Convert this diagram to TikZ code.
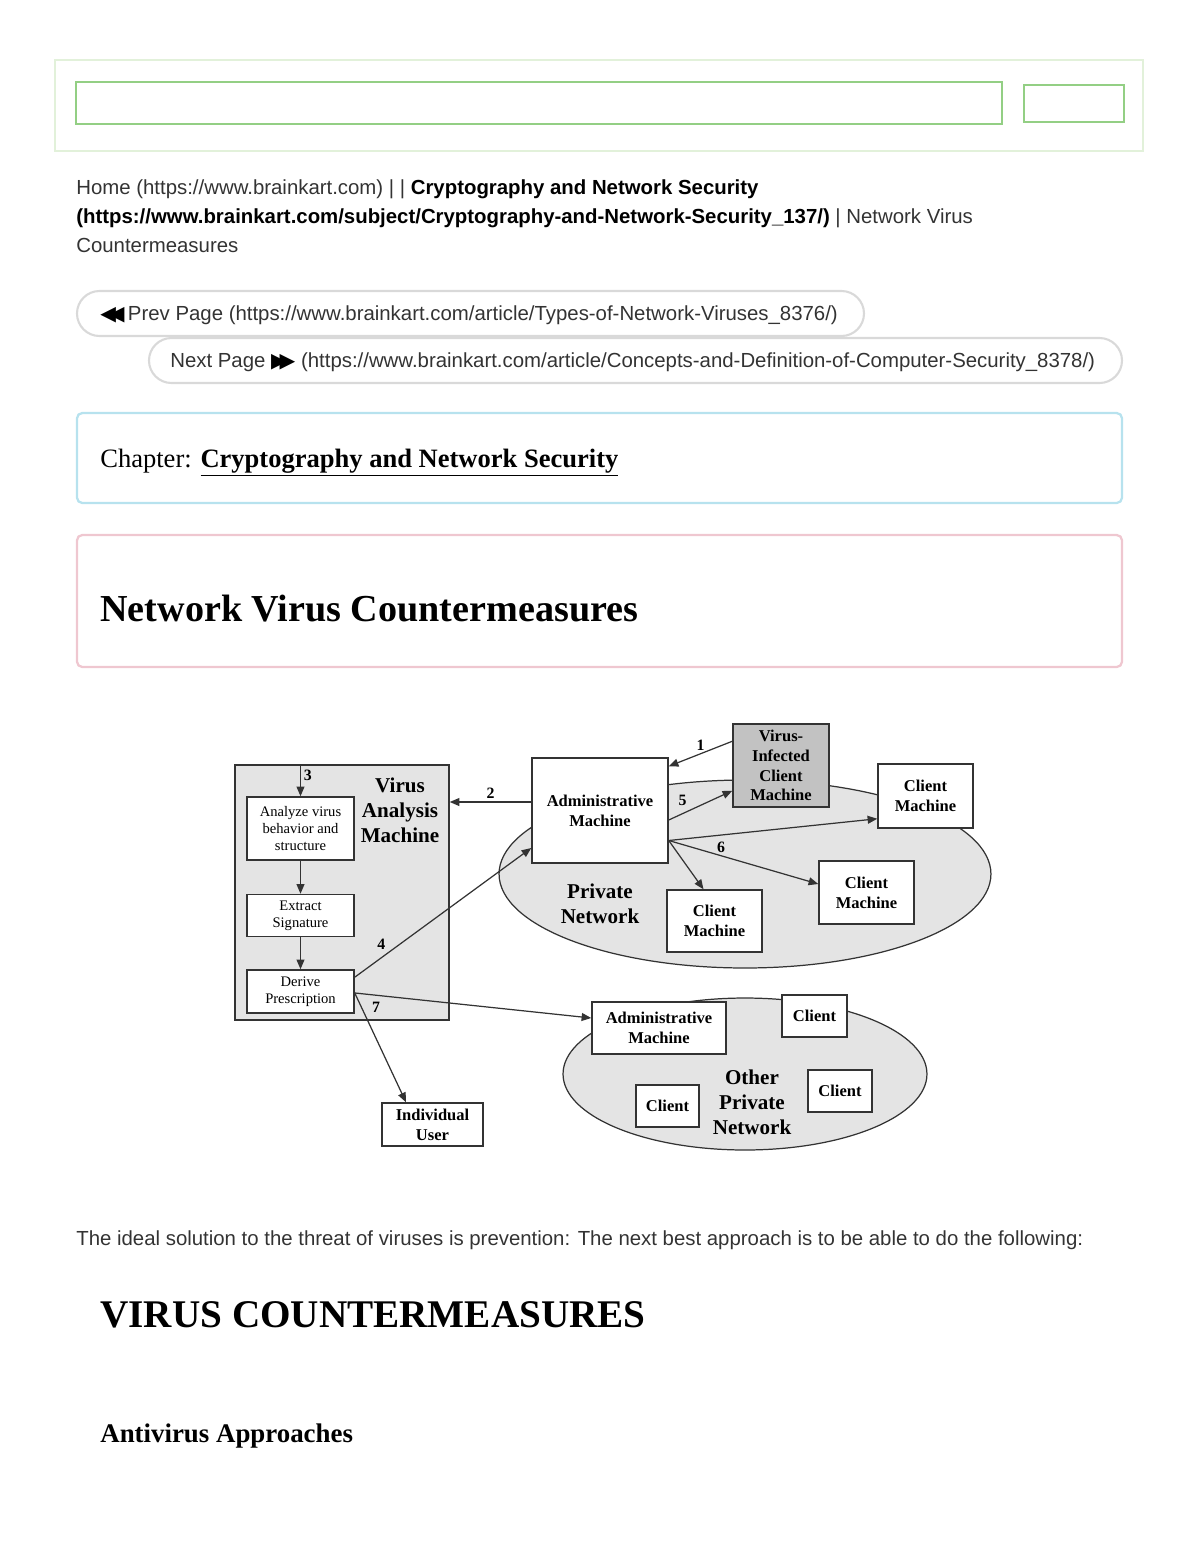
\documentclass[tikz,border=0pt]{standalone}
\usepackage{fontspec}
\setmainfont{Liberation Serif}
\setsansfont{Liberation Sans}
\newfontfamily\symfont{DejaVu Sans}
\usetikzlibrary{arrows.meta,positioning,calc,shapes.geometric}
\definecolor{bkgreen}{HTML}{93CF84}
\definecolor{bkpale}{HTML}{E2F1DA}
\definecolor{bkpill}{HTML}{D9D9D9}
\definecolor{bkblue}{HTML}{B7E2EE}
\definecolor{bkpink}{HTML}{EFC7D0}
\definecolor{bktext}{HTML}{333333}
\definecolor{figline}{HTML}{333333}
\definecolor{figfill}{HTML}{E4E4E4}
\definecolor{figdark}{HTML}{C2C2C2}

\begin{document}
\begin{tikzpicture}[
  x=0.02cm, y=-0.02cm,
  >={Triangle[length=5.5pt,width=4.5pt]},
  crumb/.style={font=\sffamily\fontsize{11.6}{14}\selectfont, text=bktext, anchor=base west, inner sep=0pt},
  heading/.style={font=\bfseries\fontsize{#1}{#1}\selectfont, anchor=base west, inner sep=0pt},
  machine/.style={draw=figline, fill=white, line width=0.85pt, align=center, inner sep=1pt,
    font=\bfseries\fontsize{9.4}{11.3}\selectfont},
  step box/.style={machine, font=\fontsize{8.3}{9.6}\selectfont},
  network/.style={ellipse, draw=figline, fill=figfill, line width=0.7pt, inner sep=0pt},
  biglabel/.style={align=center, font=\bfseries\fontsize{12}{14.2}\selectfont},
  num/.style={font=\bfseries\fontsize{9}{9}\selectfont, inner sep=1.5pt},
  link/.style={->, draw=figline, line width=0.7pt},
]
\useasboundingbox (0,0) rectangle (1200,1553);

% search bar
\draw[bkpale, line width=1.2pt] (55,60) rectangle (1143,151);
\draw[bkgreen, line width=1.6pt] (76,82) rectangle (1002,124);
\draw[bkgreen, line width=1.6pt] (1024,85) rectangle (1124,122);

% breadcrumbs
\node[crumb] (crumbA) at (76,194) {Home (https://www.brainkart.com) | | \textbf{\color{black}Cryptography and Network Security}};
\node[crumb] (crumbB) at (76,223) {\textbf{\color{black}(https://www.brainkart.com/subject/Cryptography-and-Network-Security\_137/)} | Network Virus};
\node[crumb] (crumbC) at (76,252) {Countermeasures};

% prev / next
\draw[bkpill, line width=1.2pt, rounded corners=0.45cm] (77,291) rectangle (864,336);
\draw[bkpill, line width=1.2pt, rounded corners=0.45cm] (149,338) rectangle (1122,383);
\node[crumb] (prev) at (100,320) {{\symfont\color{black}◀\kern-.35em◀}\,Prev Page (https://www.brainkart.com/article/Types-of-Network-Viruses\_8376/)};
\node[crumb] (next) at (170,367) {Next Page {\symfont\color{black}▶\kern-.35em▶} (https://www.brainkart.com/article/Concepts-and-Definition-of-Computer-Security\_8378/)};

% chapter and title
\draw[bkblue, line width=1.3pt, rounded corners=3pt] (77,413) rectangle (1122,503);
\node[heading=15.1, font=\fontsize{15.1}{15.1}\selectfont] (chapter) at (100,467) {Chapter: \textbf{\underline{Cryptography and Network Security}}};
\draw[bkpink, line width=1.3pt, rounded corners=3pt] (77,535) rectangle (1122,667);
\node[heading=21.7] (title) at (100,621) {Network Virus Countermeasures};

% figure: networks first
\node[network, minimum width=9.84cm, minimum height=3.76cm] (pnet) at (745,874) {};
\node[network, minimum width=7.28cm, minimum height=3.04cm] (onet) at (745,1074) {};

\node[draw=figline, fill=figfill, line width=0.85pt, minimum width=4.28cm, minimum height=5.1cm] (vam) at (342,892.5) {};
\node[biglabel] (vamlabel) at (400,810) {Virus\\Analysis\\Machine};
\node[step box, minimum width=2.14cm, minimum height=1.26cm] (analyze) at (300.5,828.5) {Analyze virus\\behavior and\\structure};
\node[step box, minimum width=2.14cm, minimum height=0.84cm, below=0.66cm of analyze] (extract) {Extract\\Signature};
\node[step box, minimum width=2.14cm, minimum height=0.86cm, below=0.64cm of extract] (derive) {Derive\\Prescription};

\node[machine, minimum width=2.72cm, minimum height=2.1cm] (admin) at (600,810.5) {Administrative\\Machine};
\node[machine, fill=figdark, minimum width=1.92cm, minimum height=1.66cm] (infected) at (781,765.5) {Virus-\\Infected\\Client\\Machine};
\node[machine, minimum width=1.9cm, minimum height=1.28cm] (cmA) at (925.5,796) {Client\\Machine};
\node[machine, minimum width=1.9cm, minimum height=1.26cm] (cmB) at (866.5,892.5) {Client\\Machine};
\node[machine, minimum width=1.9cm, minimum height=1.24cm] (cmC) at (714.5,921) {Client\\Machine};
\node[biglabel] (pnetlabel) at (600,904) {Private\\Network};

\node[machine, minimum width=2.02cm, minimum height=0.86cm] (user) at (432.5,1124.5) {Individual\\User};
\node[machine, minimum width=2.68cm, minimum height=1.04cm] (oadmin) at (659,1028) {Administrative\\Machine};
\node[machine, minimum width=1.3cm, minimum height=0.84cm] (ocA) at (814.5,1016) {Client};
\node[machine, minimum width=1.26cm, minimum height=0.84cm] (ocB) at (667.5,1106) {Client};
\node[machine, minimum width=1.28cm, minimum height=0.84cm] (ocC) at (840,1091) {Client};
\node[biglabel] (onetlabel) at (752,1102) {Other\\Private\\Network};

% connectors
\draw[link] (analyze.north |- vam.north) -- (analyze.north) node[num, pos=0.35, right] {3};
\draw[link] (analyze) -- (extract);
\draw[link] (extract) -- (derive);
\draw[link] ($(admin.west)+(0,-8.5)$) coordinate (twoA) -- (twoA -| vam.east) node[num, midway, above] {2};
\draw[link] ($(infected.north west)+(0,18)$) -- ($(admin.north east)+(0,9)$) node[num, midway, above] {1};
\draw[link] ($(admin.east)+(0,9.5)$) -- ($(infected.south west)+(0,-17)$) node[num, pos=0.35, above left=1pt] {5};
\coordinate (aout) at ($(admin.east)+(0,30)$);
\draw[link] (aout) -- ($(cmA.south west)+(0,-10)$);
\draw[link] (aout) -- ($(cmB.west)+(0,-8.5)$) node[num, pos=0.35, above] {6};
\draw[link] (aout) -- ($(cmC.north)+(-11,0)$);
\draw[link] ($(derive.north east)+(0,8)$) -- ($(admin.west)+(0,37.5)$) node[num, pos=0.15, above=3pt] {4};
\coordinate (dout) at ($(derive.east)+(0,1.5)$);
\draw[link] (dout) -- ($(oadmin.west)+(0,-10)$) node[num, pos=0.09, below=2pt] {7};
\draw[link] (dout) -- ($(user.north)+(-26.5,0)$);

% text below
\node[crumb] (intro) at (76,1245) {The ideal solution to the threat of viruses is prevention: The next best approach is to be able to do the following:};
\node[heading=22.3] (sectitle) at (100,1327) {VIRUS COUNTERMEASURES};
\node[heading=15.3] (subtitle) at (100,1442) {Antivirus Approaches};
\end{tikzpicture}
\end{document}
